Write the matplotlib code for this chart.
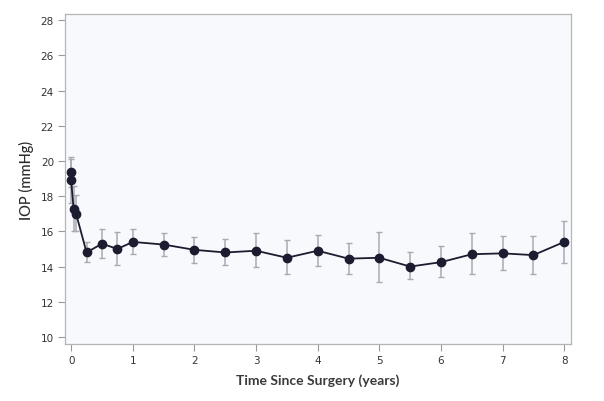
import matplotlib
matplotlib.use("Agg")
import matplotlib.pyplot as plt

# time (years) and mean IOP with error bar ends
years = [0, 0, 0.04, 0.08, 0.25, 0.5, 0.75, 1, 1.5, 2, 2.5, 3, 3.5, 4, 4.5, 5, 5.5, 6, 6.5, 7, 7.5, 8]
iop = [19.35, 18.9, 17.25, 17.0, 14.8, 15.3, 15.0, 15.4, 15.25, 14.95, 14.8, 14.9, 14.5, 14.9,
       14.45, 14.5, 14.0, 14.25, 14.7, 14.75, 14.65, 15.4]
err_hi = [20.25, 20.1, 18.6, 18.05, 15.4, 16.15, 15.95, 16.15, 15.9, 15.7, 15.55, 15.9, 15.5, 15.8,
          15.35, 15.95, 14.8, 15.15, 15.9, 15.75, 15.75, 16.6]
err_lo = [18.5, 17.6, 16.0, 16.0, 14.25, 14.5, 14.1, 14.7, 14.6, 14.2, 14.1, 14.0, 13.6, 14.05,
          13.55, 13.1, 13.3, 13.4, 13.55, 13.8, 13.6, 14.2]
xticks = [0, 1, 2, 3, 4, 5, 6, 7, 8]
yticks = [10, 12, 14, 16, 18, 20, 22, 24, 26, 28]

fig = plt.figure(figsize=(6.04, 4.02), dpi=100)
ax = fig.add_axes([65/604, 1-345/402, (571-65)/604, (345-15)/402])
ax.set_facecolor("#f8f9fc")

lo = [m - l for m, l in zip(iop, err_lo)]
hi = [h - m for m, h in zip(iop, err_hi)]
ax.errorbar(years, iop, yerr=[lo, hi], fmt="none", ecolor="#a9abb3", elinewidth=1.1,
            capsize=2.5, capthick=1.0, zorder=2)
ax.plot(years, iop, color="#1c1c30", lw=1.3, marker="o", ms=6, zorder=3)

ax.set_xlim(-0.1, 8.11)
ax.set_ylim(9.6, 28.35)
ax.set_xticks(xticks)
ax.set_yticks(yticks)
ax.tick_params(direction="out", length=5, width=0.8, color="#9a9a9a",
               labelsize=7.5, labelcolor="#333333", pad=3)
for s in ax.spines.values():
    s.set_color("#b5b5b5")
    s.set_linewidth(0.9)

ax.set_xlabel("Time Since Surgery (years)", family="Lato", fontweight="bold",
              fontsize=10, color="#3a3a3a", labelpad=6)
ax.set_ylabel("IOP (mmHg)", family="Lato", fontweight="medium",
              fontsize=10.5, color="#2a2a2a", labelpad=5)

fig.savefig("out.png", dpi=100)
